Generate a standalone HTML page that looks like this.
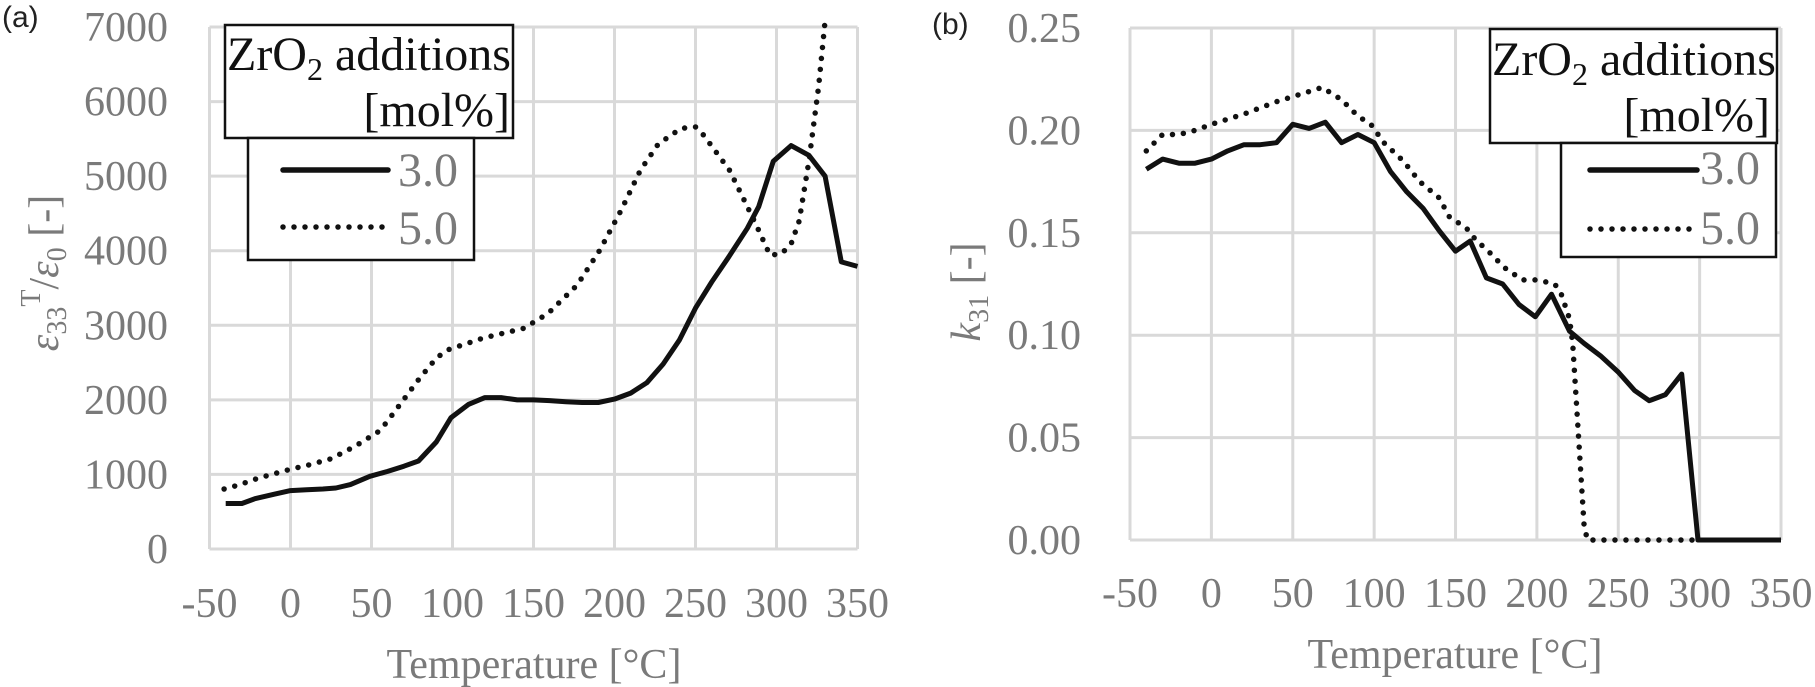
<!DOCTYPE html>
<html><head><meta charset="utf-8">
<style>
html,body{margin:0;padding:0;background:#fff;}
svg{display:block;}
.tk{font-family:"Liberation Serif",serif;font-size:42px;fill:#7a7a7a;}
.lg{font-family:"Liberation Serif",serif;font-size:48px;fill:#111;}
.lg tspan{font-family:"Liberation Serif",serif;}
.lgv{font-family:"Liberation Serif",serif;font-size:48px;fill:#7a7a7a;}
.pn{font-family:"Liberation Sans",sans-serif;font-size:30px;fill:#222;}
</style></head>
<body>
<svg id="s" width="1815" height="687" viewBox="0 0 1815 687" xmlns="http://www.w3.org/2000/svg">
<defs>
<clipPath id="ca"><rect x="205" y="20" width="660" height="535"/></clipPath>
<clipPath id="cb"><rect x="1125" y="20" width="665" height="525"/></clipPath>
</defs>
<g id="grid" stroke="#d9d9d9" stroke-width="3" fill="none"></g>
<g id="labels"></g>
<g id="series" fill="none" stroke="#111" stroke-linejoin="round"></g>

<text class="pn" x="2" y="27">(a)</text>
<text class="pn" x="932" y="34">(b)</text>

<text class="tk" x="534" y="678" text-anchor="middle">Temperature [°C]</text>
<text class="tk" x="1455" y="668" text-anchor="middle">Temperature [°C]</text>

<text class="tk" transform="translate(58,273) rotate(-90)" text-anchor="middle"><tspan font-style="italic">ε</tspan><tspan font-size="28" dy="8">33</tspan><tspan font-size="28" dy="-26">T</tspan><tspan dy="18">/</tspan><tspan font-style="italic">ε</tspan><tspan font-size="28" dy="8">0</tspan><tspan dy="-8"> [-]</tspan></text>
<text class="tk" transform="translate(980,292) rotate(-90)" text-anchor="middle"><tspan font-style="italic">k</tspan><tspan font-size="28" dy="8">31</tspan><tspan dy="-8"> [-]</tspan></text>

<rect x="225" y="25" width="288" height="113" fill="#fff" stroke="#111" stroke-width="2.5"/>
<rect x="248" y="138" width="226" height="122" fill="#fff" stroke="#111" stroke-width="2.5"/>
<text class="lg" x="227" y="70">ZrO<tspan font-size="32" dy="10">2</tspan><tspan dy="-10"> additions</tspan></text>
<text class="lg" x="510" y="126" text-anchor="end">[mol%]</text>
<line x1="283" y1="170" x2="388" y2="170" stroke="#111" stroke-width="5.5" stroke-linecap="round"/>
<line x1="283" y1="227" x2="388" y2="227" stroke="#111" stroke-width="5.5" stroke-linecap="round" stroke-dasharray="0 11"/>
<text class="lgv" x="398" y="186">3.0</text>
<text class="lgv" x="398" y="244">5.0</text>

<rect x="1490" y="29" width="287" height="114" fill="#fff" stroke="#111" stroke-width="2.5"/>
<rect x="1561" y="143" width="215" height="114" fill="#fff" stroke="#111" stroke-width="2.5"/>
<text class="lg" x="1492" y="75">ZrO<tspan font-size="32" dy="10">2</tspan><tspan dy="-10"> additions</tspan></text>
<text class="lg" x="1770" y="131" text-anchor="end">[mol%]</text>
<line x1="1590" y1="170" x2="1697" y2="170" stroke="#111" stroke-width="5.5" stroke-linecap="round"/>
<line x1="1590" y1="229" x2="1692" y2="229" stroke="#111" stroke-width="5.5" stroke-linecap="round" stroke-dasharray="0 11"/>
<text class="lgv" x="1700" y="184">3.0</text>
<text class="lgv" x="1700" y="244">5.0</text>
</svg>
<script>
var NS="http://www.w3.org/2000/svg";
function el(p,t,a,txt){var e=document.createElementNS(NS,t);for(var k in a)e.setAttribute(k,a[k]);if(txt!=null)e.textContent=txt;p.appendChild(e);return e;}
var grid=document.getElementById('grid'),lab=document.getElementById('labels'),ser=document.getElementById('series');
function XA(t){return 290.5+1.62*t;} function YA(v){return 549-0.07457*v;}
function XB(t){return 1211.4+1.6275*t;} function YB(v){return 540-2048*v;}
for(var t=-50;t<=350;t+=50){
 el(grid,'line',{x1:XA(t),x2:XA(t),y1:YA(7000),y2:YA(0)});
 el(lab,'text',{'class':'tk',x:XA(t),y:617,'text-anchor':'middle'},String(t));
 el(grid,'line',{x1:XB(t),x2:XB(t),y1:YB(0.25),y2:YB(0)});
 el(lab,'text',{'class':'tk',x:XB(t),y:607,'text-anchor':'middle'},String(t));
}
for(var v=0;v<=7000;v+=1000){
 el(grid,'line',{x1:XA(-50),x2:XA(350),y1:YA(v),y2:YA(v)});
 el(lab,'text',{'class':'tk',x:168,y:YA(v)+14,'text-anchor':'end'},String(v));
}
for(var i=0;i<=5;i++){var v=i*0.05;
 el(grid,'line',{x1:XB(-50),x2:XB(350),y1:YB(v),y2:YB(v)});
 el(lab,'text',{'class':'tk',x:1081,y:YB(v)+14,'text-anchor':'end'},v.toFixed(2));
}
function poly(pts,X,Y,dotted,clip){
 var s=pts.map(function(p){return X(p[0]).toFixed(1)+','+Y(p[1]).toFixed(1);}).join(' ');
 var a={points:s,'stroke-width':dotted?5.5:5,'clip-path':'url(#'+clip+')'};
 if(dotted){a['stroke-dasharray']='0 11';a['stroke-linecap']='round';}
 el(ser,'polyline',a);
}
var a3=[[-40,610],[-30,610],[-22,675],[-10,735],[0,783],[10,795],[20,805],[28,818],[37,863],[49,975],[60,1040],[70,1110],[79,1180],[90,1435],[99,1760],[110,1940],[120,2030],[130,2030],[140,2000],[150,2000],[160,1990],[170,1975],[180,1965],[190,1965],[200,2010],[210,2090],[220,2230],[230,2480],[240,2800],[250,3230],[260,3580],[270,3900],[282,4300],[289,4590],[298,5200],[309,5410],[320,5280],[330,5000],[340,3850],[350,3790]];
var a5=[[-41,805],[-32,858],[-20,950],[-10,1010],[0,1070],[10,1120],[25,1210],[40,1380],[54,1570],[59,1690],[69,1980],[79,2270],[90,2560],[97,2670],[119,2830],[144,2960],[159,3160],[177,3540],[191,4010],[204,4540],[216,5080],[227,5430],[241,5640],[250,5660],[255,5550],[271,5080],[280,4680],[288,4320],[296,3940],[303,3960],[309,4090],[314,4400],[320,5200],[326,6200],[331,7300]];
var b3=[[-40,.181],[-30,.186],[-20,.184],[-10,.184],[0,.186],[10,.19],[20,.193],[30,.193],[40,.194],[50,.203],[60,.201],[70,.204],[80,.194],[90,.198],[100,.194],[110,.18],[120,.17],[130,.162],[140,.151],[150,.141],[159,.146],[169,.128],[179,.125],[189,.115],[199,.109],[209,.120],[220,.102],[229,.096],[239,.090],[250,.082],[260,.073],[269,.068],[279,.071],[289,.081],[299,0],[350,0]];
var b5=[[-40,.19],[-30,.198],[-20,.198],[-10,.2],[0,.203],[20,.208],[40,.214],[60,.219],[68,.221],[80,.215],[90,.207],[98,.203],[106,.194],[118,.185],[128,.175],[140,.167],[146,.158],[157,.152],[163,.146],[169,.142],[180,.133],[191,.127],[200,.127],[211,.125],[215,.12],[220,.108],[222,.096],[229,.007],[231,0],[297,0]];
poly(a3,XA,YA,false,'ca');poly(a5,XA,YA,true,'ca');
poly(b3,XB,YB,false,'cb');poly(b5,XB,YB,true,'cb');
var s=document.getElementById('s');
var rest=[].slice.call(s.childNodes).filter(function(n){return n.nodeType==1&&n.id!=='grid'&&n.id!=='labels'&&n.id!=='series'&&n.tagName!=='defs';});
rest.forEach(function(n){s.appendChild(n);});
</script>
</body></html>
